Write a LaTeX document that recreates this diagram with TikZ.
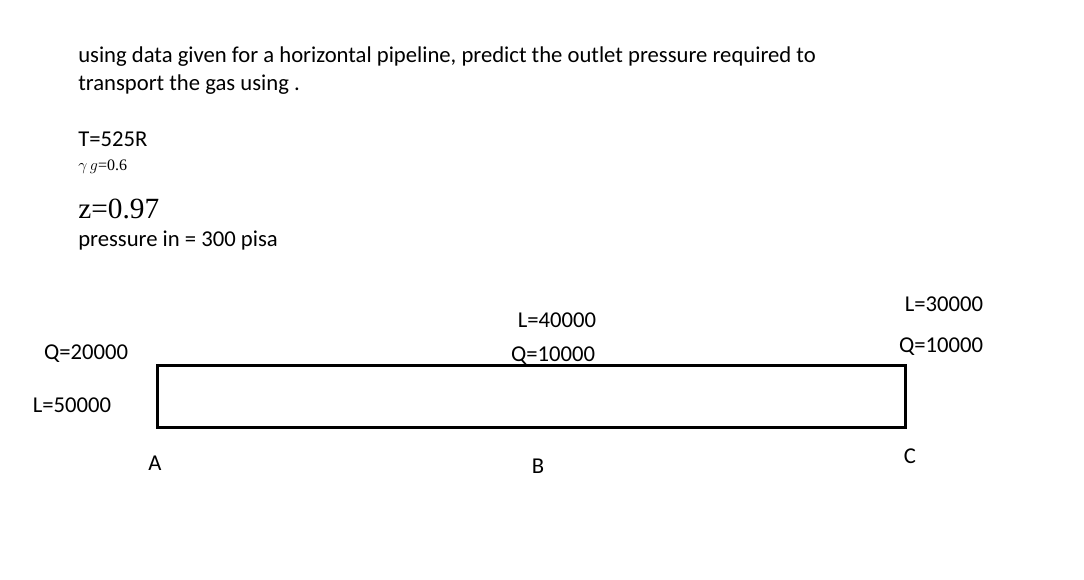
\documentclass[tikz,border=0pt]{standalone}
\usepackage{fontspec}
\setmainfont{Carlito}
\newfontfamily\serifz{Liberation Serif}
\begin{document}
\begin{tikzpicture}[x=0.75pt,y=-0.75pt,lbl/.style={inner sep=0pt,font=\fontsize{17}{20}\selectfont}]
		\useasboundingbox (0,0) rectangle (1084,580);
		\coordinate (A) at (157,366);
		\coordinate (C) at (905,427);
		\draw [line width=2.25pt] (A) rectangle (C);
		\node [lbl,anchor=west] (line1) at (78,57) {using data given for a horizontal pipeline, predict the outlet pressure required to};
		\node [lbl,anchor=west] (line2) at (78,85) {transport the gas using .};
		\node [lbl,anchor=west] (temp) at (78,139) {T=525R};
		\node [inner sep=0pt,anchor=west] (grav) at (78,167) {\fontsize{12}{14}\selectfont$\gamma\,g$\serifz=0.6};
		\node [inner sep=0pt,anchor=west,font=\serifz\fontsize{22}{26}\selectfont] (zfac) at (78,209) {z=0.97};
		\node [lbl,anchor=west] (pin) at (78,241) {pressure in = 300 pisa};
		\node [lbl] (QA) at (86,354) {Q=20000};
		\node [lbl] (LA) at (72,405) {L=50000};
		\node [lbl] (LB) at (557,320) {L=40000};
		\node [lbl] (QB) at (553,356) {Q=10000};
		\node [lbl] (LC) at (944,304) {L=30000};
		\node [lbl] (QC) at (941,347) {Q=10000};
		\node [lbl] (nA) at (155,463) {A};
		\node [lbl] (nB) at (538,466) {B};
		\node [lbl] (nC) at (910,456) {C};
	\end{tikzpicture}
\end{document}
